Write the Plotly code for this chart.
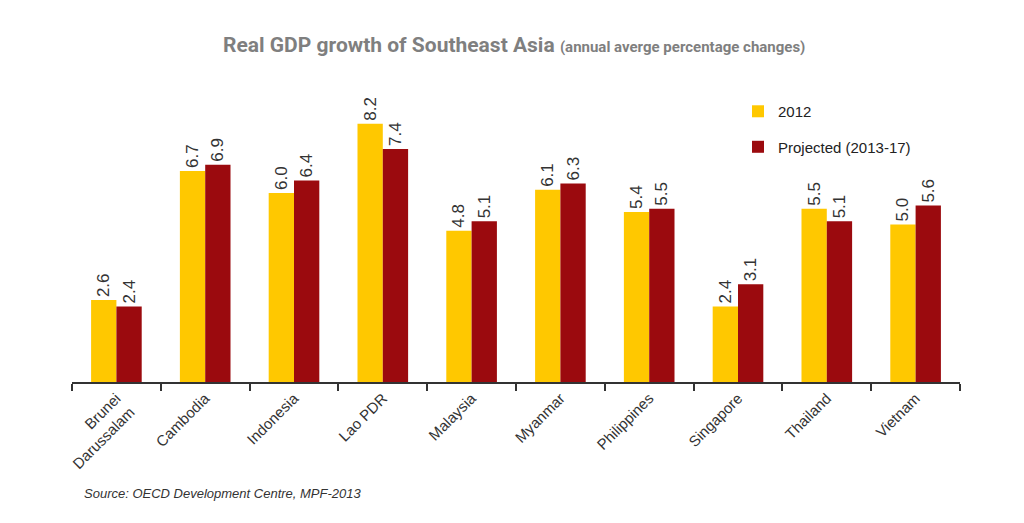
import plotly.graph_objects as go

countries = ["Brunei<br>Darussalam", "Cambodia", "Indonesia", "Lao PDR", "Malaysia",
             "Myanmar", "Philippines", "Singapore", "Thailand", "Vietnam"]
growth_2012 = [2.6, 6.7, 6.0, 8.2, 4.8, 6.1, 5.4, 2.4, 5.5, 5.0]
growth_proj = [2.4, 6.9, 6.4, 7.4, 5.1, 6.3, 5.5, 3.1, 5.1, 5.6]

label_font = dict(family="Liberation Sans, Arial, sans-serif", size=17, color="#333333")

fig = go.Figure()
fig.add_trace(go.Bar(
    x=countries, y=growth_2012, name="2012",
    marker=dict(color="#FFC800", line=dict(width=0)),
    text=[f"{v:.1f}" for v in growth_2012], textposition="outside",
    textangle=-90, textfont=label_font, constraintext="none", cliponaxis=False,
    legendgroup="a",
))
fig.add_trace(go.Bar(
    x=countries, y=growth_proj, name="Projected (2013-17)",
    marker=dict(color="#9B0A0E", line=dict(width=0)),
    text=[f"{v:.1f}" for v in growth_proj], textposition="outside",
    textangle=-90, textfont=label_font, constraintext="none", cliponaxis=False,
    legendgroup="b",
))

fig.update_layout(
    width=1024, height=523,
    margin=dict(l=72, r=64, t=67, b=141),
    paper_bgcolor="white", plot_bgcolor="white",
    barmode="group", bargap=0.43, bargroupgap=0,
    showlegend=True,
    legend=dict(x=0.750, y=0.911, xanchor="left", yanchor="top",
                font=dict(family="Liberation Sans, Arial, sans-serif", size=15, color="#222222"),
                tracegroupgap=13, bgcolor="rgba(0,0,0,0)"),
    xaxis=dict(
        showline=True, linecolor="#333333", linewidth=1.5,
        ticks="outside", tickson="boundaries", ticklen=7, tickcolor="#333333", tickwidth=1.5,
        tickangle=-45, tickfont=dict(family="Liberation Sans, Arial, sans-serif", size=15, color="#333333"),
        showgrid=False,
    ),
    yaxis=dict(range=[0, 10], visible=False, showgrid=False, zeroline=False),
    annotations=[
        dict(text="<b>Real GDP growth of Southeast Asia</b> <span style='font-size:15px'><b>(annual averge percentage changes)</b></span>",
             xref="paper", yref="paper", x=(514-72)/888, y=(382-45)/314.6, xanchor="center", yanchor="middle",
             showarrow=False, font=dict(family="Roboto, Liberation Sans, sans-serif", size=21, color="#7f7f7f")),
        dict(text="<i>Source: OECD Development Centre, MPF-2013</i>",
             xref="paper", yref="paper", x=(82-72)/888, y=(382-493)/314.6, xanchor="left", yanchor="middle",
             showarrow=False, font=dict(family="Liberation Sans, Arial, sans-serif", size=13, color="#333333")),
    ],
)

fig.write_html("out.html")
